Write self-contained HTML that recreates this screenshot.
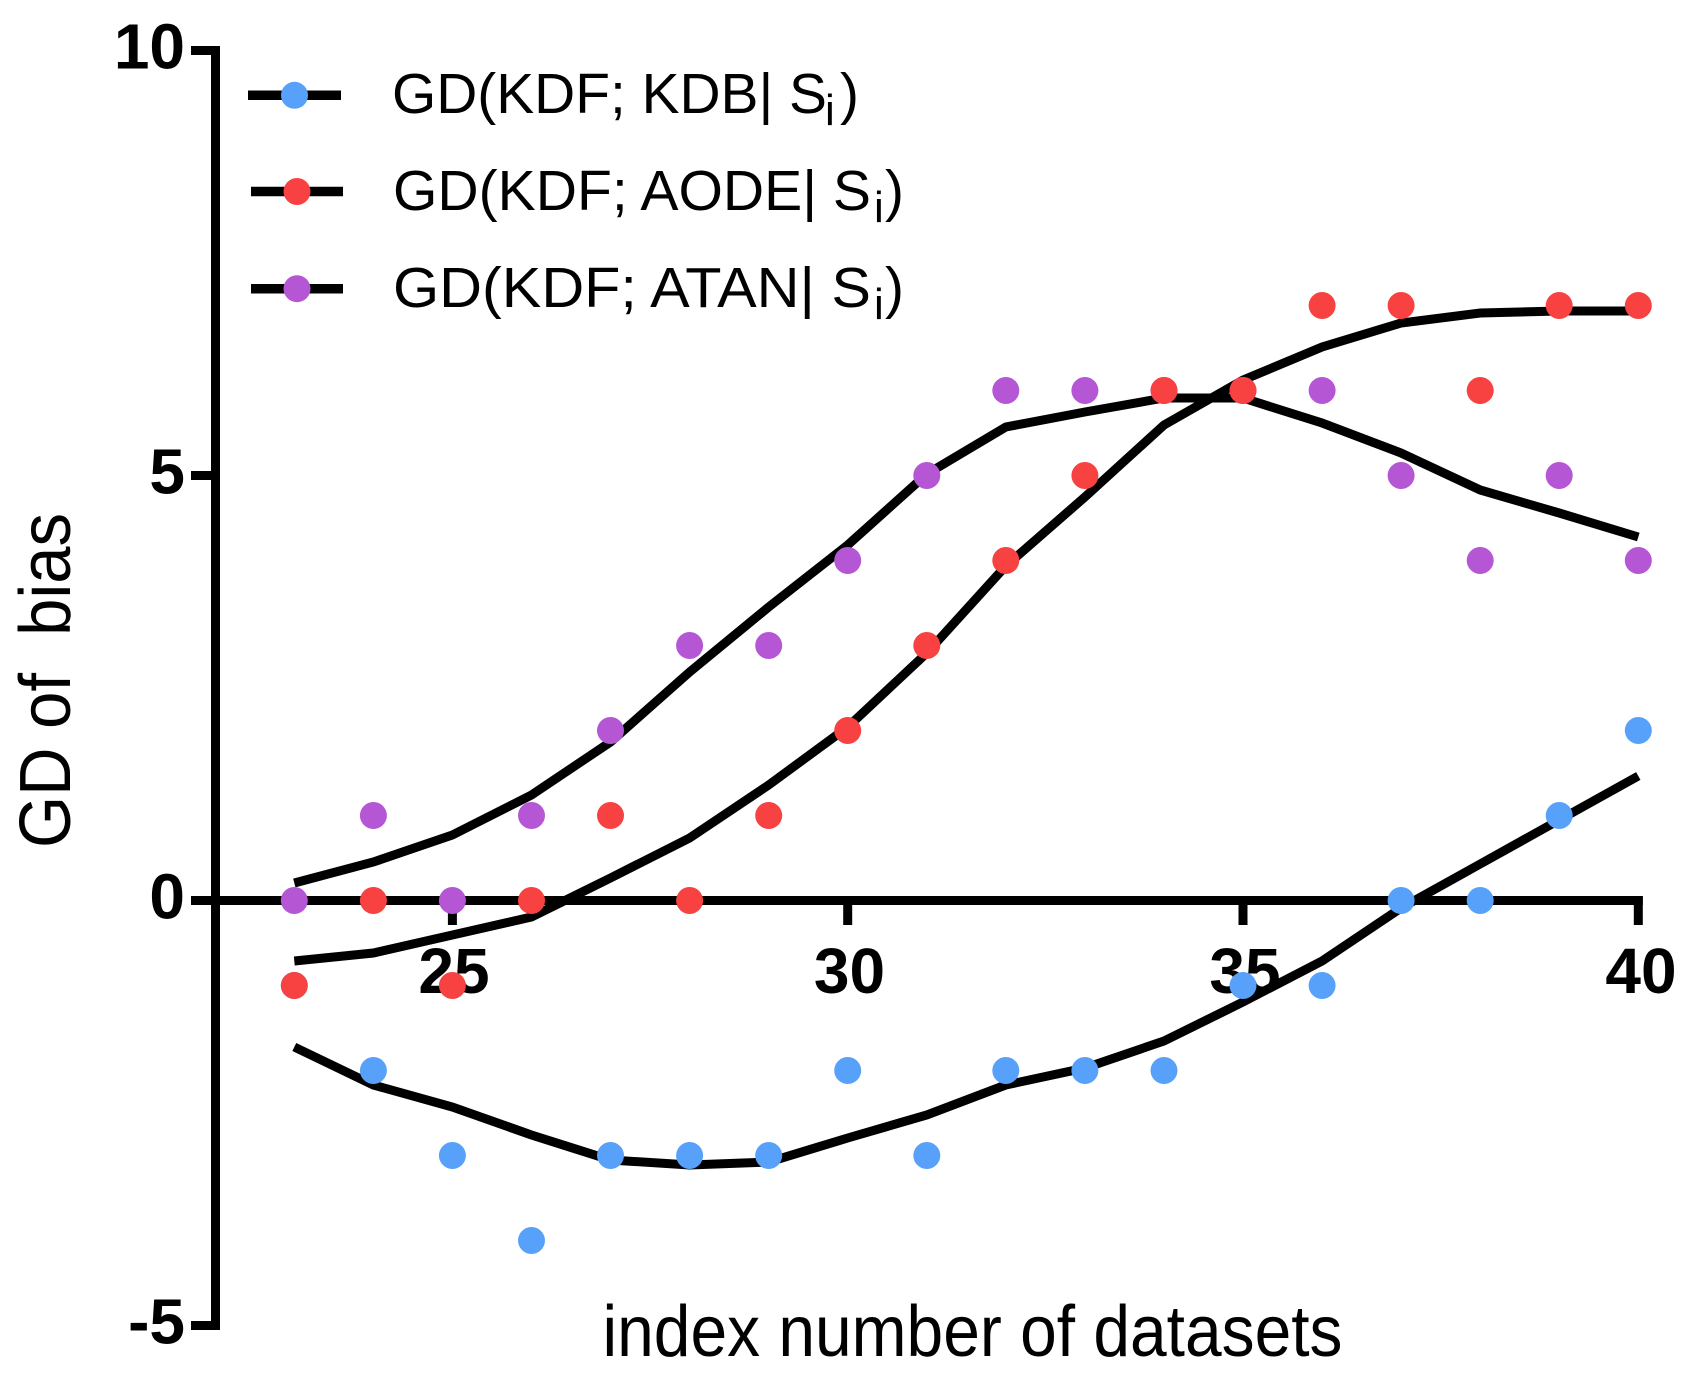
<!DOCTYPE html>
<html>
<head>
<meta charset="utf-8">
<style>
html,body{margin:0;padding:0;background:#fff;}
svg{display:block;}
text{font-family:"Liberation Sans",Arial,sans-serif;fill:#000;}
</style>
</head>
<body>
<svg width="1694" height="1386" viewBox="0 0 1694 1386" xmlns="http://www.w3.org/2000/svg">
<rect x="0" y="0" width="1694" height="1386" fill="#fff"/>

<!-- Axes -->
<g stroke="#000" stroke-width="9" fill="none" stroke-linecap="butt">
  <line x1="215.5" y1="46" x2="215.5" y2="1330"/>
  <line x1="191" y1="50.5" x2="220" y2="50.5"/>
  <line x1="191" y1="475.5" x2="220" y2="475.5"/>
  <line x1="191" y1="900.5" x2="220" y2="900.5"/>
  <line x1="191" y1="1325.5" x2="220" y2="1325.5"/>
  <line x1="211" y1="900.5" x2="1642.8" y2="900.5"/>
  <line x1="452.4" y1="896" x2="452.4" y2="925"/>
  <line x1="847.7" y1="896" x2="847.7" y2="925"/>
  <line x1="1243" y1="896" x2="1243" y2="925"/>
  <line x1="1638.3" y1="896" x2="1638.3" y2="925"/>
</g>

<!-- Y tick labels -->
<g font-size="64" font-weight="bold" text-anchor="end">
  <text x="185" y="68.5">10</text>
  <text x="185" y="493.5">5</text>
  <text x="185" y="918.5">0</text>
  <text x="185" y="1343.5">-5</text>
</g>

<!-- X tick labels -->
<g font-size="64" font-weight="bold" text-anchor="middle">
  <text x="454" y="993">25</text>
  <text x="849.5" y="993">30</text>
  <text x="1245" y="993">35</text>
  <text x="1641" y="993">40</text>
</g>

<!-- Axis titles -->
<text x="972.5" y="1356" font-size="72" text-anchor="middle" textLength="740" lengthAdjust="spacingAndGlyphs">index number of datasets</text>
<text x="0" y="0" font-size="72" text-anchor="middle" textLength="335" lengthAdjust="spacingAndGlyphs" transform="translate(70,680.5) rotate(-90)" xml:space="preserve">GD of  bias</text>

<!-- Fitted curves -->
<g stroke="#000" stroke-width="9" fill="none" stroke-linecap="butt" stroke-linejoin="miter">
  <polyline points="294.3,1047 373.4,1085 452.4,1107 531.5,1135 610.5,1160 689.6,1165 768.7,1162 847.7,1138 926.8,1115 1005.8,1085 1084.9,1068 1164,1041 1243,1002 1322.1,961 1401.1,908 1480.2,864 1559.2,820 1638.3,776"/>
  <polyline points="294.3,961 373.4,953 452.4,935 531.5,917 610.5,878 689.6,838 768.7,785 847.7,727 926.8,653 1005.8,566 1084.9,497 1164,425 1243,380 1322.1,347 1401.1,323 1480.2,313 1559.2,311 1638.3,311"/>
  <polyline points="294.3,883 373.4,862 452.4,835 531.5,795 610.5,742 689.6,672 768.7,607 847.7,545 926.8,474 1005.8,427 1084.9,412 1164,398 1243,398 1322.1,423 1401.1,453 1480.2,490 1559.2,513 1638.3,537"/>
</g>

<!-- Blue points (KDB) -->
<g fill="#57A1FB">
  <circle cx="294.3" cy="985.5" r="13.5"/>
  <circle cx="373.4" cy="1070.5" r="13.5"/>
  <circle cx="452.4" cy="1155.5" r="13.5"/>
  <circle cx="531.5" cy="1240.5" r="13.5"/>
  <circle cx="610.5" cy="1155.5" r="13.5"/>
  <circle cx="689.6" cy="1155.5" r="13.5"/>
  <circle cx="768.7" cy="1155.5" r="13.5"/>
  <circle cx="847.7" cy="1070.5" r="13.5"/>
  <circle cx="926.8" cy="1155.5" r="13.5"/>
  <circle cx="1005.8" cy="1070.5" r="13.5"/>
  <circle cx="1084.9" cy="1070.5" r="13.5"/>
  <circle cx="1164" cy="1070.5" r="13.5"/>
  <circle cx="1243" cy="985.5" r="13.5"/>
  <circle cx="1322.1" cy="985.5" r="13.5"/>
  <circle cx="1401.1" cy="900.5" r="13.5"/>
  <circle cx="1480.2" cy="900.5" r="13.5"/>
  <circle cx="1559.2" cy="815.5" r="13.5"/>
  <circle cx="1638.3" cy="730.5" r="13.5"/>
</g>

<!-- Purple points (ATAN) -->
<g fill="#B556D5">
  <circle cx="294.3" cy="900.5" r="13.5"/>
  <circle cx="373.4" cy="815.5" r="13.5"/>
  <circle cx="452.4" cy="900.5" r="13.5"/>
  <circle cx="531.5" cy="815.5" r="13.5"/>
  <circle cx="610.5" cy="730.5" r="13.5"/>
  <circle cx="689.6" cy="645.5" r="13.5"/>
  <circle cx="768.7" cy="645.5" r="13.5"/>
  <circle cx="847.7" cy="560.5" r="13.5"/>
  <circle cx="926.8" cy="475.5" r="13.5"/>
  <circle cx="1005.8" cy="390.5" r="13.5"/>
  <circle cx="1084.9" cy="390.5" r="13.5"/>
  <circle cx="1164" cy="390.5" r="13.5"/>
  <circle cx="1243" cy="390.5" r="13.5"/>
  <circle cx="1322.1" cy="390.5" r="13.5"/>
  <circle cx="1401.1" cy="475.5" r="13.5"/>
  <circle cx="1480.2" cy="560.5" r="13.5"/>
  <circle cx="1559.2" cy="475.5" r="13.5"/>
  <circle cx="1638.3" cy="560.5" r="13.5"/>
</g>

<!-- Red points (AODE) -->
<g fill="#F84141">
  <circle cx="294.3" cy="985.5" r="13.5"/>
  <circle cx="373.4" cy="900.5" r="13.5"/>
  <circle cx="452.4" cy="985.5" r="13.5"/>
  <circle cx="531.5" cy="900.5" r="13.5"/>
  <circle cx="610.5" cy="815.5" r="13.5"/>
  <circle cx="689.6" cy="900.5" r="13.5"/>
  <circle cx="768.7" cy="815.5" r="13.5"/>
  <circle cx="847.7" cy="730.5" r="13.5"/>
  <circle cx="926.8" cy="645.5" r="13.5"/>
  <circle cx="1005.8" cy="560.5" r="13.5"/>
  <circle cx="1084.9" cy="475.5" r="13.5"/>
  <circle cx="1164" cy="390.5" r="13.5"/>
  <circle cx="1243" cy="390.5" r="13.5"/>
  <circle cx="1322.1" cy="305.5" r="13.5"/>
  <circle cx="1401.1" cy="305.5" r="13.5"/>
  <circle cx="1480.2" cy="390.5" r="13.5"/>
  <circle cx="1559.2" cy="305.5" r="13.5"/>
  <circle cx="1638.3" cy="305.5" r="13.5"/>
</g>

<!-- Legend -->
<g stroke="#000" stroke-width="9.5" fill="none">
  <line x1="248" y1="95.3" x2="341" y2="95.3"/>
  <line x1="251" y1="191.5" x2="343" y2="191.5"/>
  <line x1="251" y1="288.7" x2="343" y2="288.7"/>
</g>
<circle cx="294.5" cy="95.3" r="13.5" fill="#57A1FB"/>
<circle cx="297" cy="191.5" r="13.5" fill="#F84141"/>
<circle cx="297" cy="288.7" r="13.5" fill="#B556D5"/>

<g font-size="57">
  <text x="392" y="113" textLength="435" lengthAdjust="spacingAndGlyphs">GD(KDF; KDB| S</text>
  <text x="825" y="125" font-size="44">i</text>
  <text x="840" y="113">)</text>

  <text x="393" y="210" textLength="478" lengthAdjust="spacingAndGlyphs">GD(KDF; AODE| S</text>
  <text x="874" y="222" font-size="44">i</text>
  <text x="885" y="210">)</text>

  <text x="393" y="307" textLength="478" lengthAdjust="spacingAndGlyphs">GD(KDF; ATAN| S</text>
  <text x="874" y="319" font-size="44">i</text>
  <text x="885" y="307">)</text>
</g>
</svg>
</body>
</html>
